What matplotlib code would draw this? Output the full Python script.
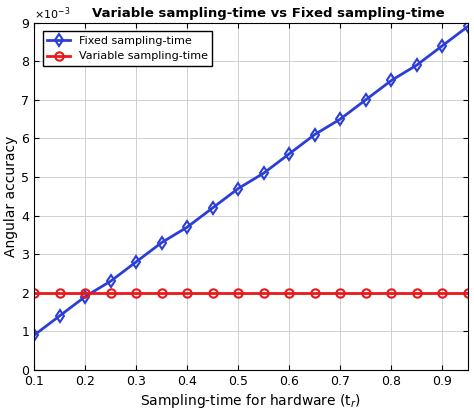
import numpy as np
import matplotlib.pyplot as plt

# sampling time (s) and angular accuracy (x1e-3)
t_r = [0.1, 0.15, 0.2, 0.25, 0.3, 0.35, 0.4, 0.45, 0.5, 0.55,
       0.6, 0.65, 0.7, 0.75, 0.8, 0.85, 0.9, 0.95]
fixed = [0.9, 1.4, 1.9, 2.3, 2.8, 3.3, 3.7, 4.2, 4.7, 5.1,
         5.6, 6.1, 6.5, 7.0, 7.5, 7.9, 8.4, 8.9]
variable = [2.0] * 18

fig = plt.figure(figsize=(4.74, 4.11), dpi=100)
ax = fig.add_axes([0.072, 0.1, 0.915, 0.845])

ax.plot(t_r, fixed, color='#2b3fd6', lw=2, marker='d', ms=6,
        mfc='none', mew=1.5, label='Fixed sampling-time')
ax.plot(t_r, variable, color='#e8191c', lw=2, marker='o', ms=6,
        mfc='none', mew=1.5, label='Variable sampling-time')

ax.set_xlim(0.1, 0.95)
ax.set_ylim(0, 9)
ax.set_xticks(np.arange(0.1, 0.91, 0.1))
ax.set_xticklabels(['0.1', '0.2', '0.3', '0.4', '0.5', '0.6', '0.7', '0.8', '0.9'])
ax.set_yticks(range(10))
ax.tick_params(labelsize=9, direction='in', top=True, right=True)
ax.grid(True, color='#d0d0d0', lw=0.7)
ax.text(0.0, 1.003, r'$\times10^{-3}$', transform=ax.transAxes, fontsize=8, va='bottom')

ax.set_xlabel('Sampling-time for hardware (t$_r$)', fontsize=10, labelpad=3)
ax.set_ylabel('Angular accuracy', fontsize=10, labelpad=2)
ax.set_title('Variable sampling-time vs Fixed sampling-time', fontsize=9.5,
             fontweight='bold', pad=4, x=0.54)
ax.legend(loc='upper left', fontsize=8, fancybox=False, edgecolor='black',
          framealpha=1, borderaxespad=0.8)

fig.savefig('out.png', dpi=100)
